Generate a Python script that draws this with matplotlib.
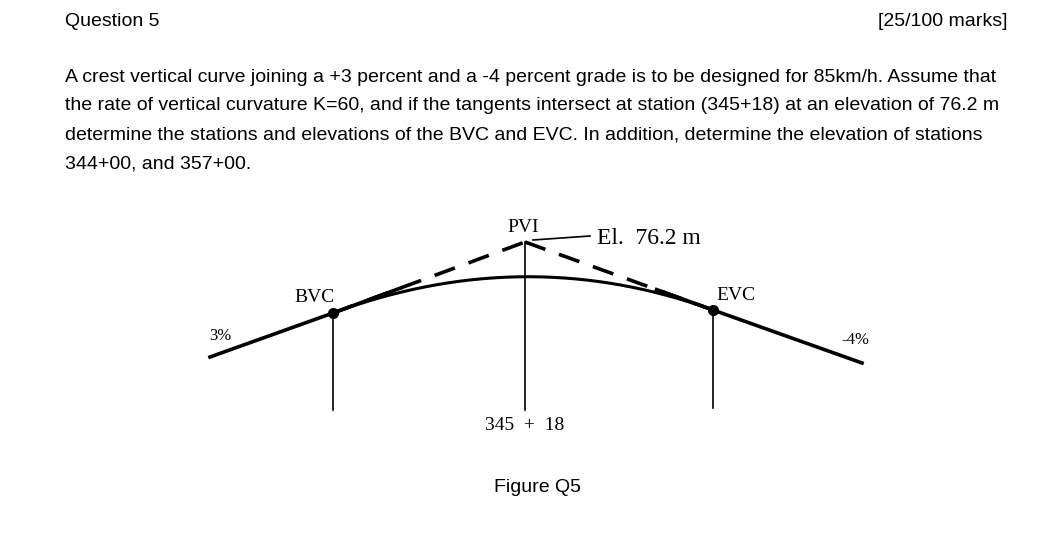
import matplotlib
matplotlib.use("Agg")
import matplotlib.pyplot as plt
import numpy as np

# Diagram key points (pixel space of reference)
point_names = ["start", "BVC", "PVI", "EVC", "end"]
point_x = [210, 333, 525, 713, 862]
point_y = [357, 313, 242, 310, 363]
vertical_bottom = [410, 410, 408]
labels = ["BVC", "EVC", "3%", "-4%", "PVI", "El.  76.2 m", "345  +  18"]

fig = plt.figure(figsize=(10.63, 5.55), dpi=100)
ax = fig.add_axes([0, 0, 1, 1])
ax.set_xlim(0, 1063)
ax.set_ylim(555, 0)
ax.axis("off")

sans = "Liberation Sans"
serif = "Liberation Serif"
ax.text(65, 22, "Question 5", fontsize=14, family=sans, va="center")
ax.text(1008, 22, "[25/100 marks]", fontsize=14, family=sans, va="center", ha="right")
para = ["A crest vertical curve joining a +3 percent and a -4 percent grade is to be designed for 85km/h. Assume that",
        "the rate of vertical curvature K=60, and if the tangents intersect at station (345+18) at an elevation of 76.2 m",
        "determine the stations and elevations of the BVC and EVC. In addition, determine the elevation of stations",
        "344+00, and 357+00."]
for i, line in enumerate(para):
    ax.text(65, 77 + i * 29, line, fontsize=14, family=sans, va="center")

sx, bx, px, ex, enx = point_x
sy, by, py, ey, eny = point_y
ax.plot([sx, bx], [sy, by], color="black", lw=2.6)
ax.plot([ex, enx], [ey, eny], color="black", lw=2.6)
ax.plot([bx, px], [by, py], color="black", lw=2.6, dashes=(6, 4))
ax.plot([px, ex], [py, ey], color="black", lw=2.6, dashes=(6, 4))
ax.plot([bx, bx + 0.35 * (px - bx)], [by, by + 0.35 * (py - by)], color="black", lw=2.6)
ax.plot([ex - 0.3 * (ex - px), ex], [ey - 0.3 * (ey - py), ey], color="black", lw=2.6)
t = np.linspace(0, 1, 200)
cx = (1 - t) ** 2 * bx + 2 * t * (1 - t) * px + t ** 2 * ex
cy = (1 - t) ** 2 * by + 2 * t * (1 - t) * py + t ** 2 * ey
ax.plot(cx, cy, color="black", lw=2.2)
for x0, y0, yb in zip([bx, px, ex], [by, py, ey], vertical_bottom):
    ax.plot([x0, x0], [y0, yb], color="black", lw=1.2)
ax.plot([bx, ex], [by, ey], "o", color="black", ms=7, ls="none")
ax.plot([px + 8, 590], [py - 2, 236], color="black", lw=1.2)

ax.text(315, 298, labels[0], fontsize=14, family=serif, ha="center", va="center")
ax.text(736, 296, labels[1], fontsize=14, family=serif, ha="center", va="center")
ax.text(220, 336, labels[2], fontsize=12, family=serif, ha="center", va="center")
ax.text(855, 340, labels[3], fontsize=12, family=serif, ha="center", va="center")
ax.text(523, 227, labels[4], fontsize=14, family=serif, ha="center", va="center")
ax.text(597, 238, labels[5], fontsize=17, family=serif, ha="left", va="center")
ax.text(525, 425, labels[6], fontsize=14, family=serif, ha="center", va="center")
ax.text(537, 487, "Figure Q5", fontsize=14, family=sans, ha="center", va="center")

fig.savefig("out.png", dpi=100)
